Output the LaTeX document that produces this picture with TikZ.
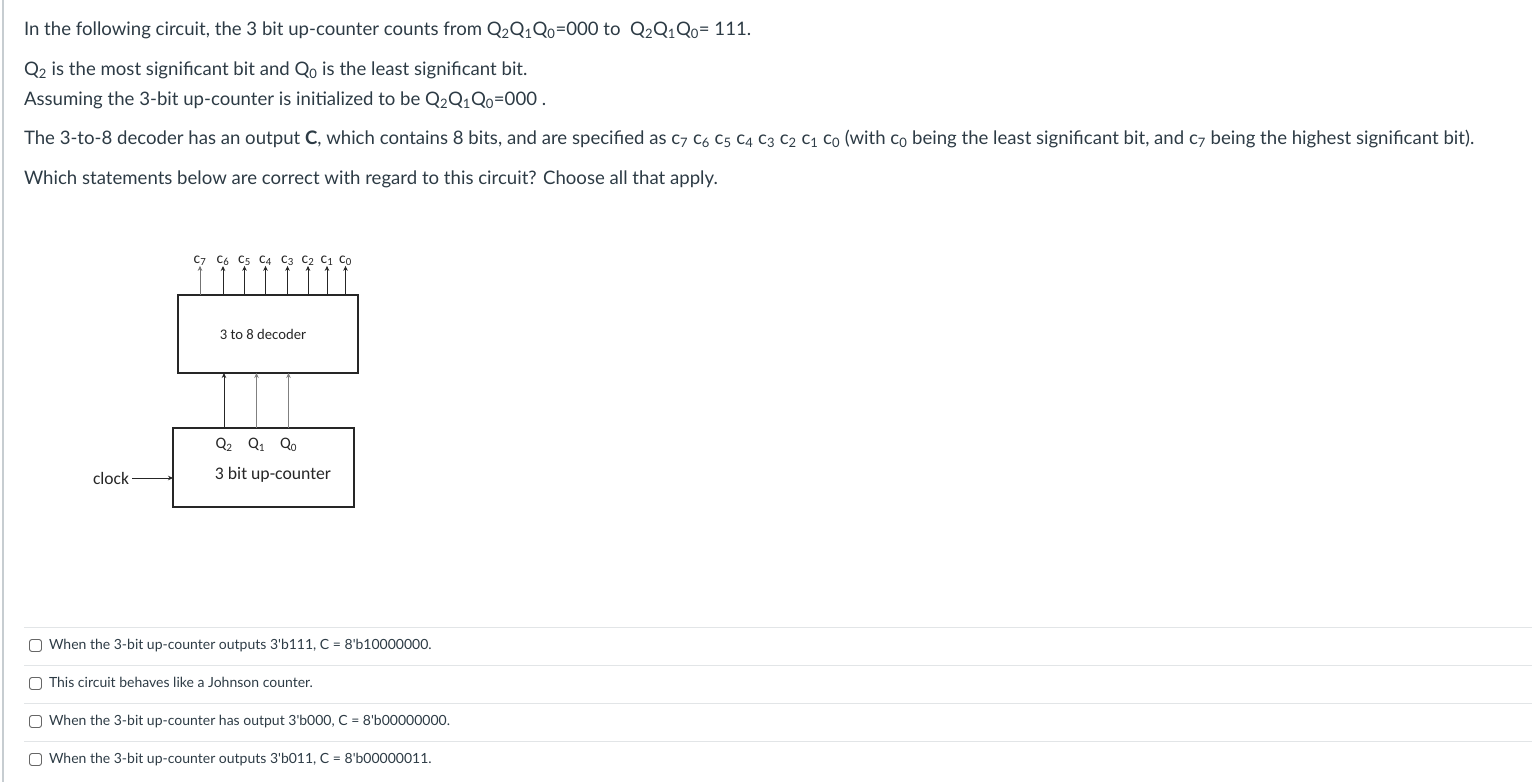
\documentclass[tikz,border=0pt]{standalone}
\usepackage{fontspec}
\setmainfont{Lato}
\newfontfamily\diagfont{Carlito}
\usetikzlibrary{arrows.meta}
\definecolor{ink}{HTML}{2D3B45}
\definecolor{rule}{HTML}{E2E5E7}
\definecolor{edge}{HTML}{C7CDD1}
\newcommand{\lo}[1]{\textsubscript{#1}}
\newcommand{\aps}{\textquotesingle}

\begin{document}
\begin{tikzpicture}[x=1pt, y=-1pt,
  every node/.style={inner sep=0pt, outer sep=0pt},
  para/.style={anchor=base west, text=ink, font=\fontsize{18.6}{22}\selectfont},
  answer/.style={anchor=base west, text=ink, font=\fontsize{14}{16}\selectfont},
  tick/.style={draw=black!60, line width=0.9pt, rounded corners=2.5pt, minimum size=12pt},
  blk/.style={draw=black!85, line width=1.8pt},
  sig/.style={-{Stealth[length=5pt,width=4.5pt]}, line width=0.9pt, black!85},
  sigg/.style={-{Stealth[length=5pt,width=4.5pt]}, line width=1.6pt, black!50},
  lbl/.style={font=\diagfont\fontsize{15.5}{16}\selectfont, text=black!85}]
\useasboundingbox (0,0) rectangle (1532,782);
\draw[edge, line width=1.3pt] (3,0) -- (3,782);

% question text
\node[para] (t1) at (24,35) {In the following circuit, the 3 bit up-counter counts from Q\lo{2}Q\lo{1}Q\lo{0}=000 to\ \ Q\lo{2}Q\lo{1}Q\lo{0}= 111.};
\node[para] (t2) at (24,75) {Q\lo{2} is the most significant bit and Q\lo{0} is the least significant bit.};
\node[para] (t3) at (24,105) {Assuming the 3-bit up-counter is initialized to be Q\lo{2}Q\lo{1}Q\lo{0}=000 .};
\node[para] (t4) at (24,144) {The 3-to-8 decoder has an output \textbf{C}, which contains 8 bits, and are specified as c\lo{7} c\lo{6} c\lo{5} c\lo{4} c\lo{3} c\lo{2} c\lo{1} c\lo{0} (with c\lo{0} being the least significant bit, and c\lo{7} being the highest significant bit).};
\node[para] (t5) at (24,184) {Which statements below are correct with regard to this circuit? Choose all that apply.};

% decoder
\node[blk, minimum width=180pt, minimum height=78pt] (dec) at (268,334) {};
\node[lbl, font=\diagfont\fontsize{14.7}{16}\selectfont] (decl) at (263,334) {3 to 8 decoder};
\node[lbl] (c7) at (200,261) {c\lo{7}};
\node[lbl] (c6) at (223,261) {c\lo{6}};
\node[lbl] (c5) at (244.5,261) {c\lo{5}};
\node[lbl] (c4) at (265.5,261) {c\lo{4}};
\node[lbl] (c3) at (287.5,261) {c\lo{3}};
\node[lbl] (c2) at (308,261) {c\lo{2}};
\node[lbl] (c1) at (327,261) {c\lo{1}};
\node[lbl] (c0) at (345.5,261) {c\lo{0}};
\draw[sig, black!55] (dec.north -| c7) -- (c7.south);
\draw[sig] (dec.north -| c6) -- (c6.south);
\draw[sig] (dec.north -| c5) -- (c5.south);
\draw[sig] (dec.north -| c4) -- (c4.south);
\draw[sig] (dec.north -| c3) -- (c3.south);
\draw[sig] (dec.north -| c2) -- (c2.south);
\draw[sig] (dec.north -| c1) -- (c1.south);
\draw[sig] (dec.north -| c0) -- (c0.south);

% counter
\node[blk, minimum width=181pt, minimum height=79pt] (cnt) at (263.5,467.5) {};
\node[lbl, font=\diagfont\fontsize{16}{16}\selectfont] (q2) at (224,445) {Q\lo{2}};
\node[lbl, font=\diagfont\fontsize{16}{16}\selectfont] (q1) at (256.5,445) {Q\lo{1}};
\node[lbl, font=\diagfont\fontsize{16}{16}\selectfont] (q0) at (288.5,445) {Q\lo{0}};
\node[lbl, font=\diagfont\fontsize{17.7}{18}\selectfont] (cntl) at (273,475) {3 bit up-counter};
\draw[sig] (cnt.north -| q2) -- (dec.south -| q2);
\draw[sigg] (cnt.north -| q1) -- (dec.south -| q1);
\draw[sigg] (cnt.north -| q0) -- (dec.south -| q0);
\node[lbl, font=\diagfont\fontsize{17.5}{18}\selectfont, anchor=east] (clk) at (129,478) {clock};
\draw[sig] (clk.east) ++(3,0) -- (clk.east -| cnt.west);

% answers
\draw[rule, line width=1pt] (24,627.5) -- (1532,627.5);
\draw[rule, line width=1pt] (24,665.5) -- (1532,665.5);
\draw[rule, line width=1pt] (24,703.5) -- (1532,703.5);
\draw[rule, line width=1pt] (24,741.5) -- (1532,741.5);
\node[tick] (b1) at (35.5,645.5) {};
\node[answer] (a1) at (49,649) {When the 3-bit up-counter outputs 3\aps b111, C = 8\aps b10000000.};
\node[tick] (b2) at (35.5,683.5) {};
\node[answer] (a2) at (49,687) {This circuit behaves like a Johnson counter.};
\node[tick] (b3) at (35.5,721.5) {};
\node[answer] (a3) at (49,725) {When the 3-bit up-counter has output 3\aps b000, C = 8\aps b00000000.};
\node[tick] (b4) at (35.5,759.5) {};
\node[answer] (a4) at (49,763) {When the 3-bit up-counter outputs 3\aps b011, C = 8\aps b00000011.};
\end{tikzpicture}
\end{document}
